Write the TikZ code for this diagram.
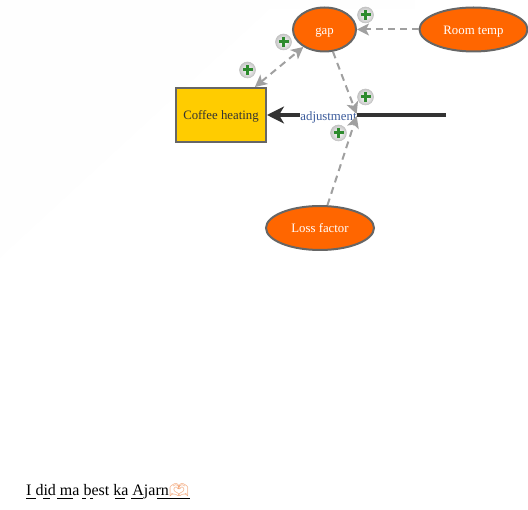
\documentclass[tikz,border=0pt]{standalone}
\usepackage{fontspec}
\setmainfont{Liberation Serif}
\newfontfamily\emojifont{Noto Emoji}
\usetikzlibrary{arrows.meta,calc,positioning,shapes.geometric}
\definecolor{orangefill}{HTML}{FF6600}
\definecolor{yellowfill}{HTML}{FFCC00}
\definecolor{edgegrey}{HTML}{666666}
\definecolor{linkgrey}{HTML}{A0A0A0}
\definecolor{flowdark}{HTML}{333333}
\definecolor{labelblue}{HTML}{3B5B9B}
\definecolor{plusgreen}{HTML}{2E8B2E}
\definecolor{heartpeach}{HTML}{F2A679}
\tikzset{
  auxnode/.style={
    ellipse, draw=edgegrey, line width=2pt, fill=orangefill,
    minimum width=108pt, minimum height=44pt, inner sep=0pt,
    text=white, text height=11pt, text depth=1pt,
    font=\fontsize{12.8}{14}\selectfont
  },
  stocknode/.style={
    rectangle, draw=edgegrey, line width=2pt, fill=yellowfill,
    minimum width=90pt, minimum height=54pt, inner sep=0pt,
    text=flowdark, text height=11pt, text depth=1pt,
    font=\fontsize{12.8}{14}\selectfont
  },
  flowlabel/.style={
    fill=white, inner sep=0.5pt, text=labelblue,
    font=\fontsize{12.8}{14}\selectfont
  },
  flow/.style={
    -{Stealth[length=17pt,width=17pt,inset=5pt]},
    line width=4pt, draw=flowdark
  },
  link/.style={
    -{Stealth[length=12pt,width=12pt,inset=3pt]},
    line width=2pt, draw=linkgrey, dash pattern=on 7pt off 5pt
  },
  twolink/.style={
    link, {Stealth[length=12pt,width=12pt,inset=3pt]}-{Stealth[length=12pt,width=12pt,inset=3pt]}
  },
  plusbtn/.style={
    circle, minimum size=16pt, inner sep=0pt, draw=black!25, line width=0.5pt,
    shading=radial, inner color=white, outer color=black!22,
    path picture={
      \fill[plusgreen] ($(path picture bounding box.center)+(-5pt,-1.5pt)$) rectangle ++(10pt,3pt);
      \fill[plusgreen] ($(path picture bounding box.center)+(-1.5pt,-5pt)$) rectangle ++(3pt,10pt);
    }
  },
  credit/.style={
    anchor=base west, inner sep=0pt, font=\fontsize{16}{18}\selectfont
  },
  creditline/.style={draw=black, line width=1pt}
}
\begin{document}
\begin{tikzpicture}[x=1pt,y=-1pt]
  \useasboundingbox (0,0) rectangle (528,510);
  % faint backdrop
  \fill[black!0.5] (0,0) -- (415,0) -- (415,9) -- (270,9) -- (0,258) -- cycle;

  % ==== NODES ====
  \node[stocknode] (heating) at (221,115) {Coffee heating};
  \node[auxnode, minimum width=63pt] (gap) at (324.5,29.5) {gap};
  \node[auxnode] (roomtemp) at (473.5,29.5) {Room temp};
  \node[auxnode] (lossfactor) at (320,228) {Loss factor};
  \coordinate (flowstart) at (446,115);
  \coordinate (valve) at (357,115);

  % ==== FLOW ====
  \draw[flow] (flowstart) -- (heating.east);
  \node[flowlabel] (adjustment) at (328.5,117) {adjustment};

  % ==== LINKS ====
  \draw[link] (roomtemp) -- (gap);
  \draw[twolink] (heating) -- (gap);
  \draw[link, shorten >=1pt] (gap) -- (valve);
  \draw[link, shorten >=1pt] (lossfactor) -- (valve);

  % ==== PLUS BUTTONS ====
  \node[plusbtn] (plusroom)    at (365.5,15)  {};
  \node[plusbtn] (plusgap)     at (283.5,42)  {};
  \node[plusbtn] (plusheating) at (247.5,70)  {};
  \node[plusbtn] (plusvalve)   at (365.5,97)  {};
  \node[plusbtn] (plusloss)    at (338.5,133) {};

  % ==== CREDIT ====
  \node[credit] (thanks) at (26,496) {I did ma best ka Ajarn{\emojifont\color{heartpeach}🫶}};
  \foreach \xa/\xb in {26/36,43/50,57/73,82/86,90/93,115/125,131/143,157/190}
    \draw[creditline] (\xa,498.5) -- (\xb,498.5);
\end{tikzpicture}
\end{document}
